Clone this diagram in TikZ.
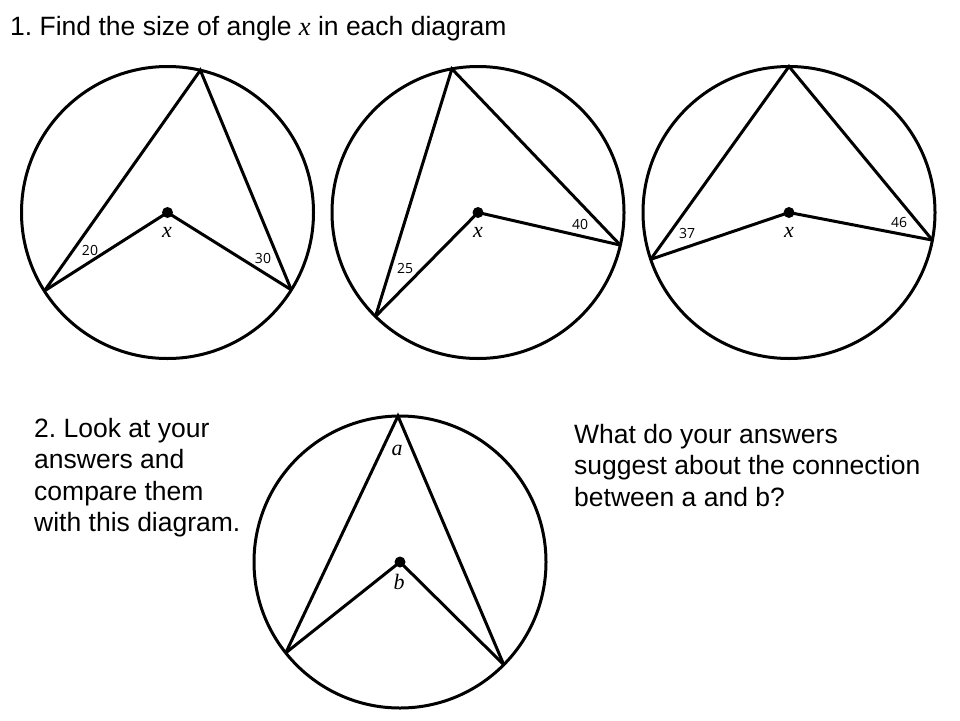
\documentclass[tikz,border=0pt]{standalone}
\usepackage{fontspec}
\setmainfont{Liberation Sans}
\newfontfamily\numfont{Open Sans}
\newfontfamily\varfont{Liberation Serif}
\usetikzlibrary{calc}
\frenchspacing
\begin{document}
\begin{tikzpicture}[x=1pt,y=-1pt,
  bigtext/.style={anchor=base west, inner sep=0pt, font=\fontsize{26.5}{31.5}\selectfont},
  numlbl/.style={inner sep=0pt, font=\numfont\fontsize{14}{16}\selectfont},
  varlbl/.style={inner sep=0pt, font=\varfont\itshape\fontsize{22}{24}\selectfont},
  rim/.style={draw, line width=3pt},
  chord/.style={draw, line width=3pt, line join=miter},
  centredot/.style={circle, fill, inner sep=0pt, minimum size=11pt}]
\useasboundingbox (0,0) rectangle (960,720);

% title
\node[bigtext] (title) at (10,35) {1. Find the size of angle {\varfont\itshape x} in each diagram};

% ---------- circle 1
\coordinate (o1) at (167.5,212.5);
\draw[rim] (o1) circle[radius=146];
\coordinate (t1) at ($(o1)+(-77:146)$);
\coordinate (l1) at ($(o1)+(147.5:146)$);
\coordinate (r1) at ($(o1)+(32:146)$);
\draw[chord] (l1) -- (t1) -- (r1);
\draw[chord] (l1) -- (o1) -- (r1);
\node[centredot] (d1) at (o1) {};
\node[varlbl] (x1) at (167,232) {x};
\node[numlbl] (n20) at (90,250) {20};
\node[numlbl] (n30) at (263,258.5) {30};

% ---------- circle 2
\coordinate (o2) at (478,212.5);
\draw[rim] (o2) circle[radius=146];
\coordinate (t2) at ($(o2)+(-100.3:146)$);
\coordinate (l2) at ($(o2)+(134.6:146)$);
\coordinate (r2) at ($(o2)+(12.9:146)$);
\draw[chord] (l2) -- (t2) -- (r2);
\draw[chord] (l2) -- (o2) -- (r2);
\node[centredot] (d2) at (o2) {};
\node[varlbl] (x2) at (478,232) {x};
\node[numlbl] (n25) at (405,268) {25};
\node[numlbl] (n40) at (580,224.5) {40};

% ---------- circle 3
\coordinate (o3) at (789,212.5);
\draw[rim] (o3) circle[radius=146];
\coordinate (t3) at ($(o3)+(-90:146)$);
\coordinate (l3) at ($(o3)+(161.3:146)$);
\coordinate (r3) at ($(o3)+(10.9:146)$);
\draw[chord] (l3) -- (t3) -- (r3);
\draw[chord] (l3) -- (o3) -- (r3);
\node[centredot] (d3) at (o3) {};
\node[varlbl] (x3) at (789,232) {x};
\node[numlbl] (n37) at (687,233.5) {37};
\node[numlbl] (n46) at (899,222.5) {46};

% ---------- circle 4
\coordinate (o4) at (400,562);
\draw[rim] (o4) circle[radius=146];
\coordinate (t4) at ($(o4)+(-90.8:146)$);
\coordinate (l4) at ($(o4)+(141.5:146)$);
\coordinate (r4) at ($(o4)+(44.7:146)$);
\draw[chord] (l4) -- (t4) -- (r4);
\draw[chord] (l4) -- (o4) -- (r4);
\node[centredot] (d4) at (o4) {};
\node[varlbl] (va) at (397,450) {a};
\node[varlbl] (vb) at (399,582) {b};

% ---------- left text
\node[bigtext] (q1) at (34,437) {2. Look at your};
\node[bigtext] (q2) at (34,468.5) {answers and};
\node[bigtext] (q3) at (34,500) {compare them};
\node[bigtext] (q4) at (34,531.5) {with this diagram.};

% ---------- right text
\node[bigtext] (w1) at (574,443) {What do your answers};
\node[bigtext] (w2) at (574,474.5) {suggest about the connection};
\node[bigtext] (w3) at (574,506) {between a and b?};
\end{tikzpicture}
\end{document}
